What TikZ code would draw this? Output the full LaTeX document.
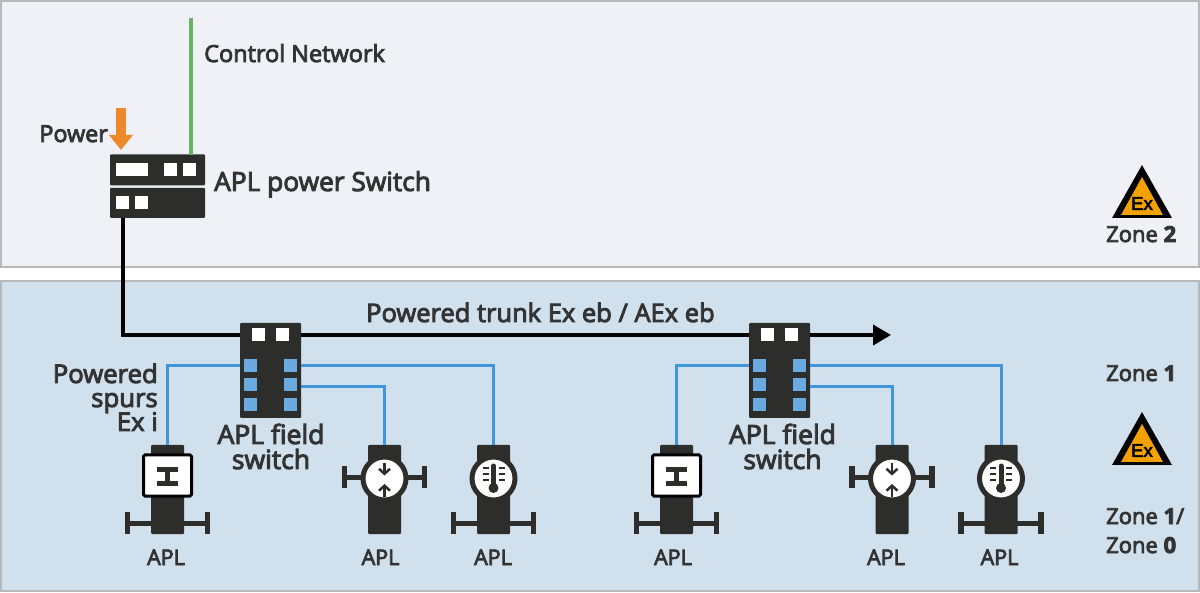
\documentclass[tikz,border=0pt]{standalone}
\usepackage{fontspec}
\setmainfont{Open Sans}[RawFeature={embolden=3.6}]
\newfontfamily\exfont{Liberation Sans}[RawFeature={embolden=3.0}]
\usetikzlibrary{arrows.meta}
\definecolor{inktext}{HTML}{333333}
\definecolor{darkbox}{HTML}{2D2D2B}
\definecolor{portblue}{HTML}{6AAAE0}
\definecolor{spurblue}{HTML}{3F96DC}
\definecolor{netgreen}{HTML}{6CB061}
\definecolor{powerorange}{HTML}{EC8A2B}
\definecolor{exorange}{HTML}{F2A100}
\definecolor{safegrey}{HTML}{EFF1F6}
\definecolor{zoneblue}{HTML}{D0E0ED}
\tikzset{
    panel/.style={draw=black!28, line width=1.5pt, inner sep=0pt},
    darkblock/.style={fill=darkbox, rounded corners=1pt, inner sep=0pt},
    whiteport/.style={fill=white, inner sep=0pt, minimum width=13pt, minimum height=13pt},
    blueport/.style={fill=portblue, inner sep=0pt, minimum width=13pt, minimum height=13pt},
    label/.style={text=inktext, inner sep=0pt, font=\fontsize{#1}{24}\selectfont},
    zonelabel/.style={text=inktext, inner sep=0pt, anchor=base west, font=\fontsize{22}{22}\selectfont},
    apllabel/.style={text=inktext, inner sep=0pt, anchor=base, font=\fontsize{21.5}{22}\selectfont},
    spur/.style={draw=spurblue, line width=3pt},
    flangeline/.style={draw=darkbox, line width=5pt},
    flangebar/.style={draw=darkbox, line width=5.5pt},
    fieldswitch/.pic={
        \node (-body) [darkblock, minimum width=61pt, minimum height=95pt] at (0,47.5) {};
        \node (-up1) [whiteport] at (-12,12) {};
        \node (-up2) [whiteport] at (12,12) {};
        \foreach \row/\ypos in {1/42.5, 2/62, 3/81.5} {
            \node (-l\row) [blueport] at (-20,\ypos) {};
            \node (-r\row) [blueport] at (19.5,\ypos) {};
        }
    },
    devicebody/.pic={
        \node (-body) [darkblock, minimum width=33pt, minimum height=89pt] at (0,44.5) {};
    },
    lowflange/.pic={
        \draw[flangeline] (-40,78) -- (40,78);
        \draw[flangebar] (-40,67) -- (-40,89);
        \draw[flangebar] (40,67) -- (40,89);
    },
    highflange/.pic={
        \draw[flangeline] (-40,32.5) -- (40,32.5);
        \draw[flangebar] (-40,21.5) -- (-40,43.5);
        \draw[flangebar] (40,21.5) -- (40,43.5);
    },
    exsign/.pic={
        \fill[black] (0,0) -- (30,53) -- (-30,53) -- cycle;
        \fill[exorange] (0,12) -- (21,50) -- (-21,50) -- cycle;
        \node (-ex) [inner sep=0pt, font=\fontsize{18.5}{18.5}\selectfont\exfont] at (0,38.5) {Ex};
    },
    valve/.pic={
        \pic {lowflange};
        \pic (-d) {devicebody};
        \draw[fill=white, draw=black, line width=3pt, rounded corners=1.5pt] (-24,10) rectangle (24,51);
        \fill[darkbox] (-10.5,22) rectangle (10.5,27);
        \fill[darkbox] (-10.5,36.5) rectangle (10.5,41);
        \fill[darkbox] (-2.5,22) rectangle (2.5,41);
    },
    flowmeter/.pic={
        \pic {highflange};
        \pic (-d) {devicebody};
        \draw[fill=white, draw=darkbox, line width=5pt] (0,33.5) circle (21.5);
        \draw[darkbox, line width=2.5pt, -{Straight Barb[length=5pt,width=11pt,line width=2.5pt]}] (0,18) -- (0,30.5);
        \draw[darkbox, line width=2.5pt, -{Straight Barb[length=5pt,width=11pt,line width=2.5pt]}] (0,52) -- (0,39);
    },
    thermometer/.pic={
        \pic {lowflange};
        \pic (-d) {devicebody};
        \draw[fill=white, draw=darkbox, line width=5pt] (0,33.5) circle (21.5);
        \draw[darkbox, line width=5pt, line cap=round] (0,21) -- (0,43);
        \fill[darkbox] (0,43) circle (5);
        \foreach \ypos in {23, 29, 35} {
            \draw[darkbox, line width=2.5pt] (-11,\ypos) -- (-5,\ypos);
            \draw[darkbox, line width=2.5pt] (5,\ypos) -- (11,\ypos);
        }
    },
}
\begin{document}
\begin{tikzpicture}[x=1pt, y=-1pt]
        \useasboundingbox (0,0) rectangle (1200,593);
        % zones
        \filldraw[panel, fill=safegrey] (1,1) rectangle (1199,267);
        \filldraw[panel, fill=zoneblue] (1,281) rectangle (1199,591);

        % power switch
        \node (pswTop) [darkblock, minimum width=95pt, minimum height=31pt] at (157.5,170) {};
        \node (pswBot) [darkblock, minimum width=95pt, minimum height=30pt] at (157.5,203) {};
        \node (pswA) [fill=white, inner sep=0pt, minimum width=32pt, minimum height=13pt] at (132,170) {};
        \node (pswB) [whiteport] at (170.5,170) {};
        \node (pswC) [whiteport] at (189.5,170) {};
        \node (pswD) [whiteport] at (122.5,203) {};
        \node (pswE) [whiteport] at (141.5,203) {};

        \coordinate (netEnd) at (191,18);
        \coordinate (pswNet) at (191,155);
        \coordinate (pswOut) at (122.5,218);
        \coordinate (powerIn) at (121,108);
        \coordinate (powerOut) at (121,150);
        \draw[netgreen, line width=3.7pt] (netEnd) -- (pswNet);
        \draw[powerorange, line width=10pt, -{Triangle[length=15pt,width=23pt]}] (powerIn) -- (powerOut);

        % field switches and devices
        \pic (swA) at (270.5,323) {fieldswitch};
        \pic (swB) at (779.5,323) {fieldswitch};
        \pic (devA) at (167.5,445) {valve};
        \pic (devB) at (384.5,445) {flowmeter};
        \pic (devC) at (493.5,445) {thermometer};
        \pic (devD) at (676.5,445) {valve};
        \pic (devE) at (892,445) {flowmeter};
        \pic (devF) at (1001,445) {thermometer};

        % trunk
        \coordinate (swAin) at (240,335);
        \coordinate (swAout) at (301,335);
        \coordinate (swBin) at (749,335);
        \coordinate (swBout) at (810,335);
        \coordinate (trunkEnd) at (891,335);
        \draw[black, line width=4pt] (pswOut) |- (swAin);
        \draw[black, line width=4pt] (swAout) -- (swBin);
        \draw[black, line width=4pt, -{Triangle[length=18pt,width=20pt]}] (swBout) -- (trunkEnd);

        % spurs
        \coordinate (swAl) at (240,365.5);
        \coordinate (swAr) at (301,365.5);
        \coordinate (swAq) at (301,386.5);
        \coordinate (swBl) at (749,365.5);
        \coordinate (swBr) at (810,365.5);
        \coordinate (swBq) at (810,386.5);
        \draw[spur] (swAl) -| (devA-d-body.north);
        \draw[spur] (swAr) -| (devC-d-body.north);
        \draw[spur] (swAq) -| (devB-d-body.north);
        \draw[spur] (swBl) -| (devD-d-body.north);
        \draw[spur] (swBr) -| (devF-d-body.north);
        \draw[spur] (swBq) -| (devE-d-body.north);

        % ex signs
        \pic (exTwo) at (1142,165) {exsign};
        \pic (exOne) at (1142,412) {exsign};

        % texts
        \node (netLabel) [label=23.5, anchor=base west] at (204,62) {Control Network};
        \node (powerLabel) [label=23.3, anchor=base east] at (108,142) {Power};
        \node (pswLabel) [label=26.3, anchor=base west] at (214,191) {APL power Switch};
        \node (trunkLabel) [label=25.5, anchor=base west] at (366,322) {Powered trunk Ex eb / AEx eb};
        \node (spurLabelA) [label=25.7, anchor=base east] at (158,383) {Powered};
        \node (spurLabelB) [label=25.7, anchor=base east] at (158,407) {spurs};
        \node (spurLabelC) [label=25.7, anchor=base east] at (158,431) {Ex i};
        \node (swAlabelA) [label=26.5, anchor=base] at (271,444) {APL field};
        \node (swAlabelB) [label=26.5, anchor=base] at (271,469) {switch};
        \node (swBlabelA) [label=26.5, anchor=base] at (782.5,444) {APL field};
        \node (swBlabelB) [label=26.5, anchor=base] at (782.5,469) {switch};
        \node (aplA) [apllabel] at (166,565) {APL};
        \node (aplB) [apllabel] at (380.5,565) {APL};
        \node (aplC) [apllabel] at (493,565) {APL};
        \node (aplD) [apllabel] at (673,565) {APL};
        \node (aplE) [apllabel] at (886,565) {APL};
        \node (aplF) [apllabel] at (999.5,565) {APL};
        \node (zoneTwo) [zonelabel] at (1106,242) {Zone \textbf{2}};
        \node (zoneOne) [zonelabel] at (1106,381) {Zone \textbf{1}};
        \node (zoneOneB) [zonelabel] at (1106,524) {Zone \textbf{1}/};
        \node (zoneZero) [zonelabel] at (1106,553) {Zone \textbf{0}};
    \end{tikzpicture}
\end{document}
